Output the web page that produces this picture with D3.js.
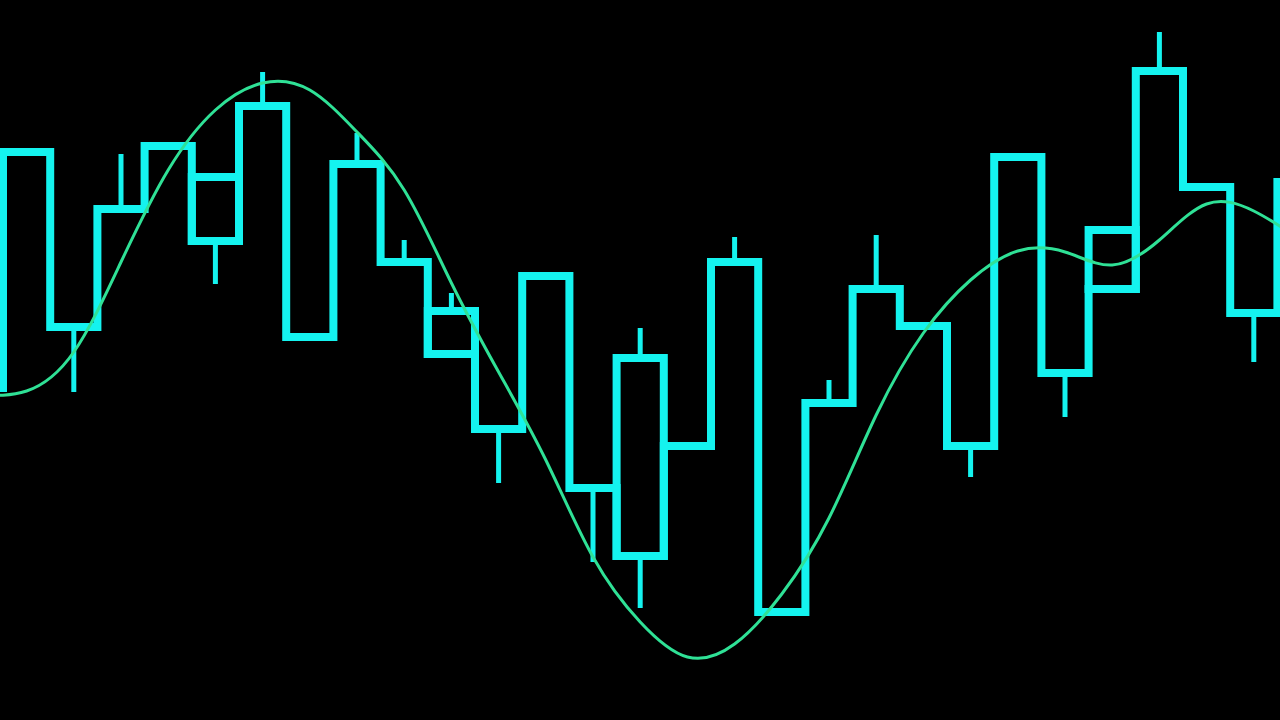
<!DOCTYPE html>
<html>
<head>
<meta charset="utf-8">
<script src="https://cdn.jsdelivr.net/npm/d3@7"></script>
<style>
  html, body { margin: 0; padding: 0; background: #000; overflow: hidden; }
  svg { display: block; }
</style>
</head>
<body>
<svg id="chart" width="1280" height="720"></svg>
<script>
// Session labels (first and last are partly outside the frame)
const sessions = ["S00","S01","S02","S03","S04","S05","S06","S07","S08","S09",
                  "S10","S11","S12","S13","S14","S15","S16","S17","S18","S19",
                  "S20","S21","S22","S23","S24","S25","S26","S27","S28"];

const opens  = [31.2, 54.8, 37.3, 49.1, 55.4, 52.3, 59.4, 36.3, 53.6, 43.8,
                38.9, 27.1, 42.4, 21.2, 34.2, 25.4, 43.8,  8.8, 29.7, 41.1,
                37.4, 25.4, 54.3, 32.7, 47.0, 62.9, 51.3, 38.7, 51.8];
const closes = [31.2, 54.8, 37.3, 49.1, 55.4, 45.9, 59.4, 36.3, 53.6, 43.8,
                34.6, 27.1, 42.4, 21.2, 14.4, 25.4, 43.8,  8.8, 29.7, 41.1,
                37.4, 25.4, 54.3, 32.7, 41.1, 62.9, 51.3, 38.7, 51.8];
const highs  = [31.2, 54.8, 37.3, 54.6, 55.4, 52.3, 62.8, 36.3, 56.7, 46.0,
                40.7, 27.1, 42.4, 21.2, 37.2, 25.4, 46.3,  8.8, 32.0, 46.5,
                37.4, 25.4, 54.3, 32.7, 47.0, 66.8, 51.3, 38.7, 51.8];
const lows   = [31.2, 54.8, 30.8, 49.1, 55.4, 41.6, 59.4, 36.3, 53.6, 43.8,
                34.6, 21.7, 42.4, 13.8,  9.2, 25.4, 43.8,  8.8, 29.7, 41.1,
                37.4, 22.3, 54.3, 28.3, 41.1, 62.9, 51.3, 33.8, 51.8];
// Smoothed average line
const average = [30.5, 30.9, 34.8, 43.8, 53.0, 59.0, 61.7, 61.0, 56.8, 51.0,
                 41.7, 32.8, 24.0, 14.3,  7.8,  4.3,  5.6, 10.6, 18.2, 28.5,
                 36.7, 42.0, 44.9, 44.8, 43.5, 46.0, 49.6, 48.9, 46.0];

const CYAN = "#14f3ef";
const GREEN = "#2fe196";

const svg = d3.select("#chart");
svg.append("rect").attr("width", 1280).attr("height", 720).attr("fill", "#000");

const x = d3.scaleBand()
  .domain(sessions)
  .range([-44.2, 1324.6])
  .paddingInner(0)
  .paddingOuter(0);
const bw = x.bandwidth();
const y = d3.scaleLinear().domain([0, 70]).range([700, 0]);

const g = svg.append("g");

// Step outline through closes
const stepPts = sessions.map((s, i) => [x(s), y(closes[i])]);
stepPts.push([x(sessions[sessions.length - 1]) + bw, y(closes[closes.length - 1])]);
g.append("path")
  .attr("d", d3.line().curve(d3.curveStepAfter)(stepPts))
  .attr("fill", "none")
  .attr("stroke", CYAN)
  .attr("stroke-width", 8)
  .attr("stroke-linejoin", "miter")
  .attr("stroke-linecap", "square");

// Real bodies (open differs from close)
const idx = d3.range(sessions.length);
g.selectAll("rect.body")
  .data(idx.filter(i => opens[i] !== closes[i]))
  .join("rect")
  .attr("class", "body")
  .attr("x", i => x(sessions[i]))
  .attr("y", i => y(Math.max(opens[i], closes[i])))
  .attr("width", bw)
  .attr("height", i => Math.abs(y(opens[i]) - y(closes[i])))
  .attr("fill", "none")
  .attr("stroke", CYAN)
  .attr("stroke-width", 8)
  .attr("stroke-linejoin", "miter");

// Upper wicks
g.selectAll("line.up")
  .data(idx.filter(i => highs[i] > Math.max(opens[i], closes[i])))
  .join("line")
  .attr("class", "up")
  .attr("x1", i => x(sessions[i]) + bw / 2)
  .attr("x2", i => x(sessions[i]) + bw / 2)
  .attr("y1", i => y(highs[i]))
  .attr("y2", i => y(Math.max(opens[i], closes[i])))
  .attr("stroke", CYAN)
  .attr("stroke-width", 5);

// Lower wicks
g.selectAll("line.down")
  .data(idx.filter(i => lows[i] < Math.min(opens[i], closes[i])))
  .join("line")
  .attr("class", "down")
  .attr("x1", i => x(sessions[i]) + bw / 2)
  .attr("x2", i => x(sessions[i]) + bw / 2)
  .attr("y1", i => y(Math.min(opens[i], closes[i])))
  .attr("y2", i => y(lows[i]))
  .attr("stroke", CYAN)
  .attr("stroke-width", 5);

// Average line
g.append("path")
  .datum(average)
  .attr("d", d3.line()
    .x((d, i) => x(sessions[i]) + bw / 2)
    .y(d => y(d))
    .curve(d3.curveNatural))
  .attr("fill", "none")
  .attr("stroke", GREEN)
  .attr("stroke-width", 3);
</script>
</body>
</html>
